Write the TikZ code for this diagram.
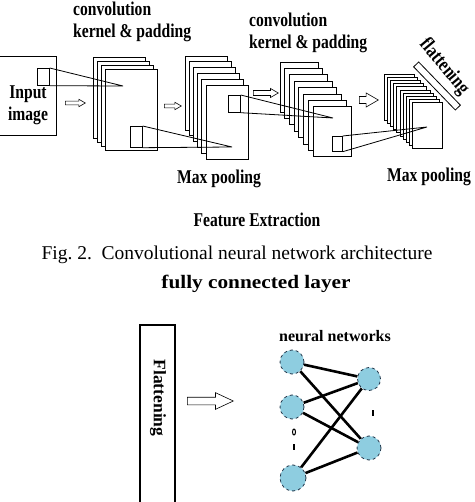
\documentclass[tikz,border=0pt]{standalone}
\usepackage{fontspec}
\setmainfont{Liberation Serif}
\newfontfamily\condbf{Liberation Serif}[FakeStretch=0.8]
\newfontfamily\widebf{Liberation Serif}[FakeStretch=1.12]
\usetikzlibrary{shapes.arrows}
\definecolor{nnblue}{RGB}{142,205,224}
\definecolor{nnedge}{RGB}{35,55,75}
\begin{document}
\begin{tikzpicture}[x=1pt, y=-1pt,
    fmap/.style={draw, fill=white, line width=0.8pt},
    kern/.style={draw, fill=white, line width=0.7pt, inner sep=0pt, anchor=north west},
    harrow/.style={single arrow, draw, line width=0.6pt, inner xsep=0pt, anchor=west, single arrow tip angle=60},
    lbl/.style={font=\condbf\bfseries\fontsize{19.5}{22}\selectfont, inner sep=0pt},
    neuron/.style={circle, draw=nnedge, dashed, line width=0.8pt, fill=nnblue, minimum size=24pt, inner sep=0pt},
    link/.style={line width=2.6pt}]
    \useasboundingbox (0,0) rectangle (474,502);
    % feature extraction
    \node[draw, line width=1.4pt, minimum width=58, minimum height=79, inner sep=0pt, anchor=north west] (inp) at (-2,56) {};
    \node[lbl, align=center] (inptxt) at (28,105) {Input\\image};
    \foreach \i in {0,...,3} \draw[fmap] ({93+4*\i},{57+4.3*\i}) rectangle ++(52,81);
    \foreach \i in {0,...,5} \draw[fmap] ({185+4.2*\i},{56+5.8*\i}) rectangle ++(42,74);
    \foreach \i in {0,...,7} \draw[fmap] ({280+4.7*\i},{62+6.4*\i}) rectangle ++(38,50);
    \foreach \i in {0,...,9} \draw[fmap] ({384+3.2*\i},{74+3.2*\i}) rectangle ++(30,46);
    \node[kern, minimum width=12, minimum height=17] (k1) at (37,68) {};
    \node[kern, minimum width=12, minimum height=21] (k2) at (130,126) {};
    \node[kern, minimum width=12, minimum height=17] (k3) at (228,95) {};
    \node[kern, minimum width=10, minimum height=15] (k4) at (332,136) {};
    \coordinate (c1) at (123,86); \coordinate (c2) at (232,147);
    \coordinate (c3) at (333,118); \coordinate (c4) at (427,127);
    \draw[line width=0.8pt] (k1.north east) -- (c1) (k1.south east) -- (c1);
    \draw[line width=0.8pt] (k2.north east) -- (c2) (k2.south east) -- (c2);
    \draw[line width=0.8pt] (k3.north east) -- (c3) (k3.south east) -- (c3);
    \draw[line width=0.8pt] (k4.north east) -- (c4) (k4.south east) -- (c4);
    \node[harrow, inner ysep=1.6pt, single arrow head extend=1.8pt, minimum height=20] (ar1) at (65,103) {};
    \node[harrow, inner ysep=1.6pt, single arrow head extend=1.8pt, minimum height=17] (ar2) at (164,106) {};
    \node[harrow, inner ysep=2.2pt, single arrow head extend=2pt, minimum height=25] (ar3) at (253,93) {};
    \node[harrow, inner ysep=3.2pt, single arrow head extend=3.5pt, minimum height=19] (ar4) at (359,100) {};
    \node[draw, line width=0.8pt, rotate=-46, minimum width=60, minimum height=7, inner sep=0pt] (fbar) at (437,86) {};
    \node[lbl, font=\condbf\bfseries\fontsize{20}{22}\selectfont, rotate=-50] (flat) at (444,67) {flattening};
    \node[lbl, align=left, anchor=west] (conv1) at (73,22) {convolution\\kernel \& padding};
    \node[lbl, align=left, anchor=west] (conv2) at (249,33) {convolution\\kernel \& padding};
    \node[lbl] (pool1) at (219,179) {Max pooling};
    \node[lbl] (pool2) at (429,177) {Max pooling};
    \node[lbl] (feat) at (257,220) {Feature Extraction};
    \node[inner sep=0pt, font=\fontsize{19.5}{22}\selectfont] (cap) at (237,255) {Fig.~2.~~Convolutional neural network architecture};
    \node[inner sep=0pt, font=\widebf\bfseries\fontsize{19}{22}\selectfont] (fcl) at (256,284) {fully connected layer};
    % fully connected layer
    \draw[line width=1.4pt] (140,506) |- (175,325) -- (175,506);
    \node[inner sep=0pt, rotate=-90, font=\bfseries\fontsize{17.5}{20}\selectfont] (flat2) at (158,398) {Flattening};
    \node[harrow, inner ysep=3.5pt, single arrow head extend=4.5pt, single arrow tip angle=50, minimum height=46] (ar5) at (187,401) {};
    \node[inner sep=0pt, font=\bfseries\fontsize{16}{18}\selectfont] (nntxt) at (335,336) {neural networks};
    \node[neuron] (n1) at (292,362) {};
    \node[neuron] (n2) at (292,407) {};
    \node[neuron, minimum size=26pt] (n3) at (293,478) {};
    \node[neuron, minimum size=23pt] (m1) at (369,379) {};
    \node[neuron, minimum size=24pt] (m2) at (369,448) {};
    \foreach \a in {n1,n2,n3} \foreach \b in {m1,m2} \draw[link] (\a) -- (\b);
    \draw[line width=1pt] (294,432) ellipse (1.5 and 3);
    \fill (293,444) rectangle (295,450);
    \fill (372,410) rectangle (374,416);
\end{tikzpicture}
\end{document}
